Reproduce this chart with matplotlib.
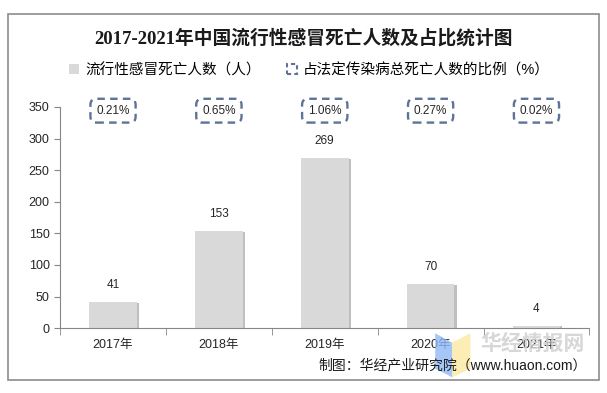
import matplotlib.pyplot as plt
import matplotlib.patheffects as pe
from matplotlib.patches import Patch, Rectangle, Polygon

# =====================================================
# DATA
# =====================================================
years = ["2017年", "2018年", "2019年", "2020年", "2021年"]
deaths = [41, 153, 269, 70, 4]
ratio = ["0.21%", "0.65%", "1.06%", "0.27%", "0.02%"]

bar_color = "#d9d9d9"
box_color = "#5f7396"
cjk = ["Liberation Sans", "Noto Sans CJK SC", "DejaVu Sans"]

plt.rcParams["font.family"] = cjk

fig = plt.figure(figsize=(6.07, 3.93), dpi=100)
ax = fig.add_axes([0.099, 0.165, 0.872, 0.563])

# =====================================================
# BARS
# =====================================================
x = range(len(years))
bars = ax.bar(x, deaths, width=0.45, color=bar_color, zorder=2)
for b in bars:
    b.set_path_effects([
        pe.SimplePatchShadow(offset=(1.5, -0.5), shadow_rgbFace="#a5a5a5", alpha=0.7),
        pe.Normal(),
    ])

for i, v in enumerate(deaths):
    ax.annotate(str(v), (i, v), xytext=(0, 8), textcoords="offset points",
                ha="center", va="bottom", fontsize=8.5, color="#262626")

# percentage boxes along the top
for i, r in enumerate(ratio):
    ax.text(i, 344, r, ha="center", va="center", fontsize=8.5, color="#262626",
            clip_on=False,
            bbox=dict(boxstyle="round,pad=0.5,rounding_size=0.5",
                      facecolor="white", edgecolor=box_color,
                      linestyle=(0, (3.2, 2.2)), linewidth=1.7))

# =====================================================
# AXES
# =====================================================
ax.set_xlim(-0.5, len(years) - 0.5)
ax.set_ylim(0, 350)
ax.set_yticks(range(0, 351, 50))
ax.set_xticks(list(x))
ax.set_xticklabels(years, fontsize=9, color="#262626")
ax.tick_params(axis="y", labelsize=9, colors="#262626", length=4,
               color="#868686")
ax.tick_params(axis="x", length=0, pad=8)
ax.set_xticks([i - 0.5 for i in range(len(years) + 1)], minor=True)
ax.tick_params(axis="x", which="minor", length=5, color="#868686")
for s in ["top", "right"]:
    ax.spines[s].set_visible(False)
ax.spines["left"].set_color("#868686")
ax.spines["bottom"].set_color("#868686")

# =====================================================
# LEGEND
# =====================================================
handles = [
    Patch(facecolor=bar_color, edgecolor="none", label="流行性感冒死亡人数（人）"),
    Patch(facecolor="white", edgecolor=box_color, linestyle=(0, (2, 1.5)),
          linewidth=1.5, label="占法定传染病总死亡人数的比例（%）"),
]
fig.legend(handles=handles, loc="center", bbox_to_anchor=(0.51, 0.822), ncol=2,
           frameon=False, handlelength=0.7, handleheight=0.7,
           handletextpad=0.4, columnspacing=1.8,
           prop={"family": cjk, "size": 10.5})

# =====================================================
# TITLE / SOURCE / FRAME
# =====================================================
fig.text(0.5, 0.903, "2017-2021年中国流行性感冒死亡人数及占比统计图",
         ha="center", va="center", fontsize=13.5, fontweight="bold",
         color="#1a1a1a", family=["Liberation Serif", "Noto Sans CJK SC"])

# watermark logo
fig.patches.append(Polygon([(0.717, 0.152), (0.745, 0.128), (0.745, 0.04), (0.717, 0.062)],
                           closed=True, transform=fig.transFigure,
                           facecolor="#8fb8f5", edgecolor="none", alpha=0.8, zorder=3))
fig.patches.append(Polygon([(0.745, 0.128), (0.775, 0.152), (0.775, 0.062), (0.745, 0.04)],
                           closed=True, transform=fig.transFigure,
                           facecolor="#fbe9a0", edgecolor="none", alpha=0.8, zorder=3))
fig.text(0.878, 0.125, "华经情报网", ha="center", va="center", fontsize=15,
         fontweight="bold", color="#d0d0d0", alpha=0.85, zorder=3)

fig.text(0.967, 0.071, "制图：华经产业研究院（www.huaon.com）",
         ha="right", va="center", fontsize=10, color="#1a1a1a", zorder=4)

fig.patches.append(Rectangle((0.013, 0.033), 0.974, 0.931, transform=fig.transFigure,
                             fill=False, edgecolor="#8c8c8c", linewidth=1.2))

fig.savefig("out.png", dpi=100)
